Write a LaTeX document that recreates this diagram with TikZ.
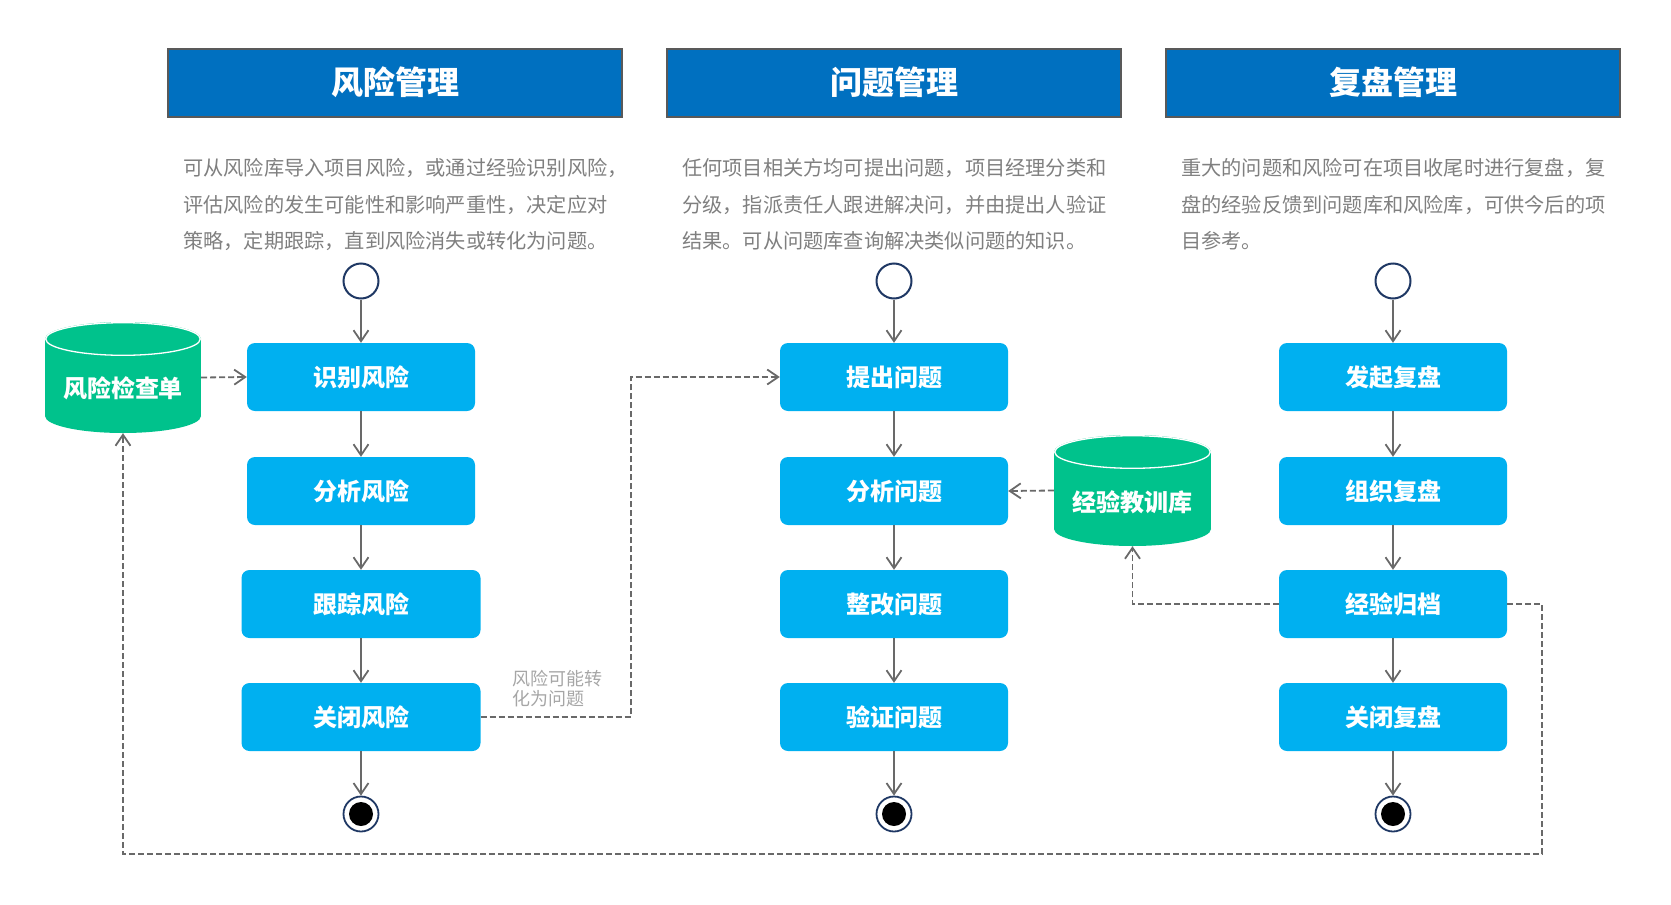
\documentclass[tikz,border=0pt]{standalone}
\usepackage{fontspec}
\setmainfont{Noto Sans CJK SC}
\usetikzlibrary{arrows.meta}
\definecolor{hdr}{RGB}{0,112,192}
\definecolor{hdrline}{RGB}{89,89,89}
\definecolor{boxblue}{RGB}{0,176,240}
\definecolor{grn}{RGB}{0,194,140}
\definecolor{navy}{RGB}{31,56,100}
\definecolor{arrowgray}{RGB}{105,105,105}
\definecolor{desc}{RGB}{127,127,127}
\definecolor{lbl}{RGB}{166,166,166}
\tikzset{
  hdrbox/.style={draw=hdrline, line width=2pt, fill=hdr, minimum width=454pt, minimum height=68pt, inner sep=0pt, text=white, font=\fontsize{32}{36}\selectfont\bfseries},
  stepbox/.style={fill=boxblue, rounded corners=8pt, minimum width=228pt, minimum height=68pt, inner sep=0pt, text=white, font=\fontsize{24}{28}\selectfont\bfseries},
  widebox/.style={stepbox, minimum width=239pt},
  startnode/.style={circle, draw=navy, line width=2pt, fill=white, minimum size=35pt, inner sep=0pt},
  endnode/.style={circle, draw=navy, line width=1.8pt, fill=white, minimum size=35pt, inner sep=0pt,
     path picture={\fill[black] (path picture bounding box.center) circle (12pt);}},
  flow/.style={draw=arrowgray, line width=1.8pt, -{Straight Barb[length=11pt,width=15pt]}},
  dflow/.style={flow, dash pattern=on 6pt off 3pt},
  descline/.style={anchor=base west, inner sep=0pt, text=desc, font=\fontsize{20.2}{24}\selectfont},
  lbltext/.style={anchor=base west, inner sep=0pt, text=lbl, font=\fontsize{18}{20}\selectfont},
  cyltext/.style={inner sep=0pt, text=white, font=\fontsize{24}{28}\selectfont\bfseries},
  helper/.style={inner sep=0pt, draw=none}
}
\begin{document}
\begin{tikzpicture}[x=1pt,y=-1pt]
\useasboundingbox (0,0) rectangle (1671,905);

% headers
\node[hdrbox] (h1) at (395,82.5) {风险管理};
\node[hdrbox] (h2) at (894,82.5) {问题管理};
\node[hdrbox] (h3) at (1393,82.5) {复盘管理};

% descriptions
\node[descline] (d11) at (183,175.5) {可从风险库导入项目风险，或通过经验识别风险，};
\node[descline] (d12) at (183,212.5) {评估风险的发生可能性和影响严重性，决定应对};
\node[descline] (d13) at (183,248.5) {策略，定期跟踪，直到风险消失或转化为问题。};
\node[descline] (d21) at (682,175.5) {任何项目相关方均可提出问题，项目经理分类和};
\node[descline] (d22) at (682,212.5) {分级，指派责任人跟进解决问，并由提出人验证};
\node[descline] (d23) at (682,248.5) {结果。可从问题库查询解决类似问题的知识。};
\node[descline] (d31) at (1181,175.5) {重大的问题和风险可在项目收尾时进行复盘，复};
\node[descline] (d32) at (1181,212.5) {盘的经验反馈到问题库和风险库，可供今后的项};
\node[descline] (d33) at (1181,248.5) {目参考。};

% column 1
\node[startnode] (s1) at (361,281) {};
\node[stepbox] (a1) at (361,377) {识别风险};
\node[stepbox] (a2) at (361,491) {分析风险};
\node[widebox] (a3) at (361,604) {跟踪风险};
\node[widebox] (a4) at (361,717) {关闭风险};
\node[endnode] (e1) at (361,814) {};

% column 2
\node[startnode] (s2) at (894,281) {};
\node[stepbox] (b1) at (894,377) {提出问题};
\node[stepbox] (b2) at (894,491) {分析问题};
\node[stepbox] (b3) at (894,604) {整改问题};
\node[stepbox] (b4) at (894,717) {验证问题};
\node[endnode] (e2) at (894,814) {};

% column 3
\node[startnode] (s3) at (1393,281) {};
\node[stepbox] (c1) at (1393,377) {发起复盘};
\node[stepbox] (c2) at (1393,491) {组织复盘};
\node[stepbox] (c3) at (1393,604) {经验归档};
\node[stepbox] (c4) at (1393,717) {关闭复盘};
\node[endnode] (e3) at (1393,814) {};

% cylinder 1: 风险检查单
\fill[grn] (45,339) rectangle (201,416);
\fill[grn] (123,416) ellipse [x radius=78, y radius=17];
\fill[grn] (123,339) ellipse [x radius=78, y radius=17];
\draw[white, line width=1.3pt] (123,339) ellipse [x radius=77.3, y radius=16.3];
\node[helper, minimum width=156pt, minimum height=111pt] (chk) at (123,377.5) {};
\node[cyltext] (chkt) at (123,388) {风险检查单};

% cylinder 2: 经验教训库
\fill[grn] (1054,452) rectangle (1211,529);
\fill[grn] (1132.5,529) ellipse [x radius=78.5, y radius=17];
\fill[grn] (1132.5,452) ellipse [x radius=78.5, y radius=17];
\draw[white, line width=1.3pt] (1132.5,452) ellipse [x radius=77.8, y radius=16.3];
\node[helper, minimum width=157pt, minimum height=111pt] (lib) at (1132.5,490.5) {};
\node[cyltext] (libt) at (1132.5,502) {经验教训库};

% solid flows
\foreach \u/\v in {s1/a1,a1/a2,a2/a3,a3/a4,a4/e1,s2/b1,b1/b2,b2/b3,b3/b4,b4/e2,s3/c1,c1/c2,c2/c3,c3/c4,c4/e3}
  \draw[flow] (\u) -- (\v);

% dashed flows
\coordinate (k1) at (631,377);
\coordinate (k2) at (1542,854);
\draw[dflow] (chk.east) -- (a1.west);
\draw[dflow] (a4.east) -| (k1) -- (b1.west);
\draw[dflow] (lib.west) -- (b2.east);
\draw[dflow] (c3.west) -| (lib.south);
\draw[dflow] (c3.east) -| (k2) -| (chk.south);

% label
\node[lbltext] (l1) at (512,685) {风险可能转};
\node[lbltext] (l2) at (512,705) {化为问题};
\end{tikzpicture}
\end{document}
